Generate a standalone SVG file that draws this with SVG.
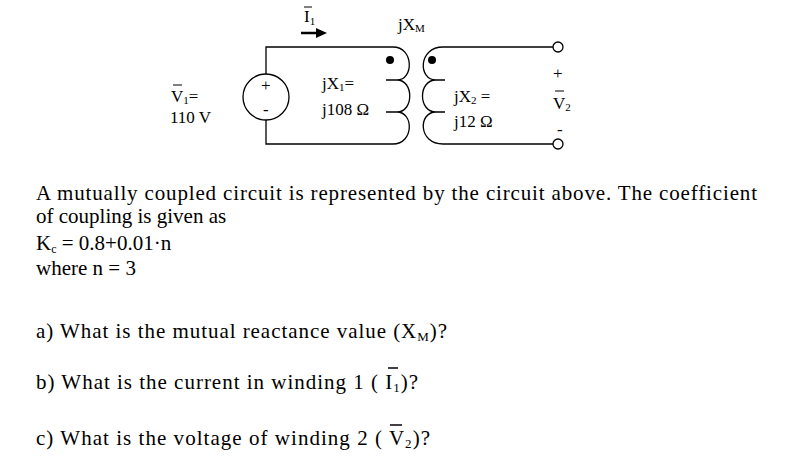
<svg xmlns="http://www.w3.org/2000/svg" width="786" height="476" viewBox="0 0 786 476">
<style>
.w{fill:none;stroke:#000;stroke-width:1.3}
text{font-family:"Liberation Serif",serif;fill:#000}
.s{font-size:17px}
.p{font-size:21px}
</style>
<rect width="786" height="476" fill="#fff"/>
<g id="connectors">
<path class="w" d="M266,74 V47 H393 M266,120 V144 H393"/>
<path class="w" d="M443,47 H553 M443,144 H553"/>
<path d="M301,33 H318" stroke="#000" stroke-width="2.5"/>
<path d="M316,28 L327,33 L316,38 Z" fill="#000"/>
</g>
<g id="source"><circle class="w" cx="266" cy="97" r="23"/>
<text class="s" x="261" y="91">+</text><text class="s" x="263" y="115">-</text></g>
<g id="coil1"><path class="w" d="M393,47 C414,47 414,80 397,80 C414,80 414,112 397,112 C414,112 414,144 393,144 M397,80 H386 M397,112 H386"/>
<circle cx="390" cy="60" r="4"/></g>
<g id="coil2"><path class="w" d="M443,47 C418,47 418,80 436,80 C418,80 418,112 436,112 C418,112 418,144 443,144 M436,80 H445 M436,112 H445"/>
<circle cx="432" cy="60" r="4"/></g>
<g id="terminals"><circle class="w" cx="558" cy="47" r="5" fill="#fff"/><circle class="w" cx="558" cy="144" r="5" fill="#fff"/></g>
<g id="labels" class="s">
<text x="304" y="22">I<tspan font-size="11" dy="3">1</tspan></text><path d="M304,7 H312" stroke="#000"/>
<text x="398" y="30">jX<tspan font-size="11" dy="2">M</tspan></text>
<text x="171" y="102">V<tspan font-size="11" dy="2">1</tspan><tspan dy="-2">=</tspan></text><path d="M173,85 H182" stroke="#000"/>
<text x="170" y="123">110 V</text>
<text x="322" y="89">jX<tspan font-size="11" dy="2">1</tspan><tspan dy="-2">=</tspan></text>
<text x="322" y="115">j108 Ω</text>
<text x="454" y="102">jX<tspan font-size="11" dy="2">2</tspan><tspan dy="-2"> =</tspan></text>
<text x="454" y="127">j12 Ω</text>
<text x="553" y="79">+</text>
<text x="553" y="109">V<tspan font-size="11" dy="2">2</tspan></text><path d="M555,91 H564" stroke="#000"/>
<text x="557" y="135">-</text>
</g>
<g id="question" class="p">
<text x="36" y="200" textLength="721">A mutually coupled circuit is represented by the circuit above.  The coefficient</text>
<text x="36" y="223">of coupling is given as</text>
<text x="36" y="250">K<tspan font-size="12" dy="3">c</tspan><tspan dy="-3"> = 0.8+0.01·n</tspan></text>
<text x="36" y="275">where  n = 3</text>
<text x="36" y="338" textLength="411">a) What is the mutual reactance value (X<tspan font-size="13" dy="3">M</tspan><tspan dy="-3">)?</tspan></text>
<text x="36" y="389" textLength="382">b) What is the current in winding 1 (  I<tspan font-size="13" dy="3">1</tspan><tspan dy="-3">)?</tspan></text>
<text x="36" y="445" textLength="394">c) What is the voltage of winding 2 (  V<tspan font-size="13" dy="3">2</tspan><tspan dy="-3">)?</tspan></text>
</g>
<g id="bars" stroke="#000" stroke-width="1.5">
<path d="M388,368 H398"/>
<path d="M390,425 H402"/>
</g>
</svg>
